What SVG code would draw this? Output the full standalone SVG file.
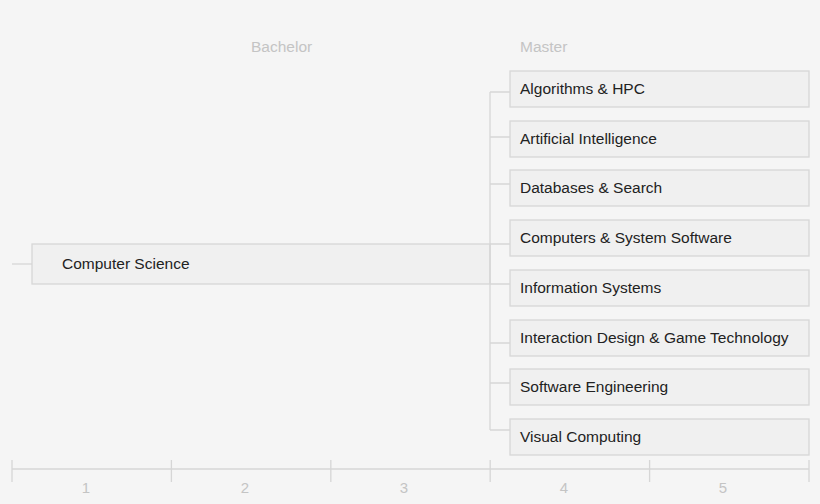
<svg xmlns="http://www.w3.org/2000/svg" width="820" height="504" viewBox="0 0 820 504">
<style>
.bg{fill:#f5f5f5}
.box{fill:#f0f0f0;stroke:#d6d6d6;stroke-width:1.3}
.lbl{font-family:"Liberation Sans",Arial,sans-serif;font-size:15.5px;fill:#222}
.hdr{font-family:"Liberation Sans",Arial,sans-serif;font-size:15.5px;fill:#c4c4c4}
.ax{font-family:"Liberation Sans",Arial,sans-serif;font-size:15px;fill:#c4c4c4;text-anchor:middle}
.ln{stroke:#d6d6d6;stroke-width:1.3;fill:none}
</style>
<rect class="bg" x="0" y="0" width="820" height="504"/>
<g id="headers">
<text class="hdr" x="251" y="52">Bachelor</text>
<text class="hdr" x="520" y="52">Master</text>
</g>
<g id="computer-science">
<rect class="box" x="32" y="244" width="458" height="40"/>
<text class="lbl" x="62" y="269">Computer Science</text>
</g>
<g id="connectors">
<path class="ln" d="M12 264H32"/>
<path class="ln" d="M490 92V430"/>
<path class="ln" d="M490 92H510M490 137H510M490 184H510M490 244H510M490 284H510M490 343H510M490 383H510M490 430H510"/>
</g>
<g id="algorithms-hpc">
<rect class="box" x="510" y="71" width="299" height="36"/>
<text class="lbl" x="520" y="93.5">Algorithms &amp; HPC</text>
</g>
<g id="artificial-intelligence">
<rect class="box" x="510" y="121" width="299" height="36"/>
<text class="lbl" x="520" y="143.5">Artificial Intelligence</text>
</g>
<g id="databases-search">
<rect class="box" x="510" y="170" width="299" height="36"/>
<text class="lbl" x="520" y="192.5">Databases &amp; Search</text>
</g>
<g id="computers-system-software">
<rect class="box" x="510" y="220" width="299" height="36"/>
<text class="lbl" x="520" y="242.5">Computers &amp; System Software</text>
</g>
<g id="information-systems">
<rect class="box" x="510" y="270" width="299" height="36"/>
<text class="lbl" x="520" y="292.5">Information Systems</text>
</g>
<g id="interaction-design">
<rect class="box" x="510" y="320" width="299" height="36"/>
<text class="lbl" x="520" y="342.5">Interaction Design &amp; Game Technology</text>
</g>
<g id="software-engineering">
<rect class="box" x="510" y="369" width="299" height="36"/>
<text class="lbl" x="520" y="391.5">Software Engineering</text>
</g>
<g id="visual-computing">
<rect class="box" x="510" y="419" width="299" height="36"/>
<text class="lbl" x="520" y="441.5">Visual Computing</text>
</g>
<g id="axis">
<path class="ln" d="M12 469H809M12 460V482M171.4 460V482M330.8 460V482M490.2 460V482M649.6 460V482M809 460V482"/>
<text class="ax" x="86" y="492.5">1</text>
<text class="ax" x="245" y="492.5">2</text>
<text class="ax" x="404" y="492.5">3</text>
<text class="ax" x="564" y="492.5">4</text>
<text class="ax" x="723" y="492.5">5</text>
</g>
</svg>
